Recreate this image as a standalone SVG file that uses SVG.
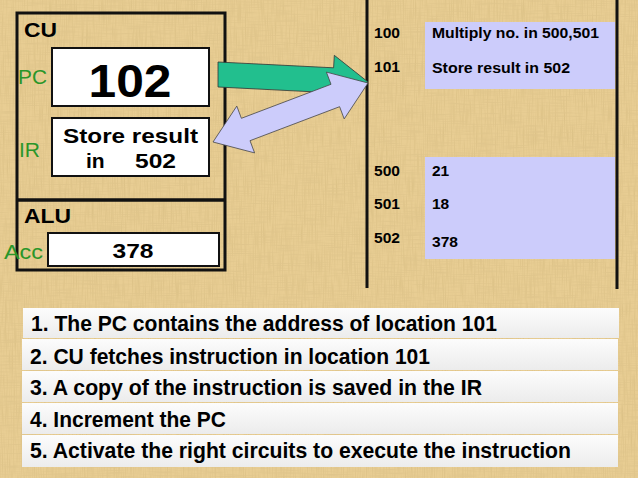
<svg xmlns="http://www.w3.org/2000/svg" width="638" height="478" viewBox="0 0 638 478">
<defs>
<style>
.b{font-family:"Liberation Sans",Arial,sans-serif;font-weight:bold;fill:#000}
.g{font-family:"Liberation Sans",Arial,sans-serif;fill:#2a962a;font-size:21px}
.box{fill:#fff;stroke:#111;stroke-width:2}
.mem{fill:#ccccfb}
.m{font-size:15.5px}
.row{fill:url(#rowg)}
.step{font-size:22px}
</style>
<linearGradient id="rowg" x1="0" y1="0" x2="0" y2="1">
<stop offset="0" stop-color="#fcfcfc"/>
<stop offset="1" stop-color="#ececec"/>
</linearGradient>
<filter id="tex" x="0" y="0" width="100%" height="100%">
<feTurbulence type="fractalNoise" baseFrequency="0.9 0.04" numOctaves="2" seed="3" result="n1"/>
<feColorMatrix in="n1" type="matrix" values="0 0 0 0 0.55  0 0 0 0 0.4  0 0 0 0 0.15  0 0 0 -2.2 1.3" result="a"/>
<feTurbulence type="fractalNoise" baseFrequency="0.04 0.9" numOctaves="2" seed="7" result="n2"/>
<feColorMatrix in="n2" type="matrix" values="0 0 0 0 0.6  0 0 0 0 0.45  0 0 0 0 0.2  0 0 0 -2.2 1.25" result="b"/>
<feMerge><feMergeNode in="a"/><feMergeNode in="b"/></feMerge>
</filter>
</defs>
<rect width="638" height="478" fill="#e8cd93"/>
<rect width="638" height="478" filter="url(#tex)" opacity="0.3"/>

<g id="cu">
<rect x="17" y="13" width="208" height="257" fill="none" stroke="#111" stroke-width="3"/>
<line x1="17" y1="200" x2="225" y2="200" stroke="#111" stroke-width="3.5"/>
<text class="b" x="24" y="37" font-size="21" textLength="33" lengthAdjust="spacingAndGlyphs">CU</text>
</g>
<g id="pc">
<text class="g" x="18" y="84" textLength="29" lengthAdjust="spacingAndGlyphs">PC</text>
<rect class="box" x="52" y="48" width="157" height="58"/>
<text class="b" x="130" y="97" font-size="46" text-anchor="middle" textLength="83" lengthAdjust="spacingAndGlyphs">102</text>
</g>
<g id="ir">
<text class="g" x="19" y="157">IR</text>
<rect class="box" x="52" y="118" width="157" height="58"/>
<text class="b" x="63" y="143" font-size="21" textLength="135" lengthAdjust="spacingAndGlyphs">Store result</text>
<text class="b" x="86" y="168" font-size="21">in</text>
<text class="b" x="135" y="168" font-size="21" textLength="41" lengthAdjust="spacingAndGlyphs">502</text>
</g>
<g id="alu">
<text class="b" x="24" y="223" font-size="21" textLength="47" lengthAdjust="spacingAndGlyphs">ALU</text>
</g>
<g id="acc">
<text class="g" x="4" y="259" textLength="39" lengthAdjust="spacingAndGlyphs">Acc</text>
<rect class="box" x="48" y="233" width="171" height="33"/>
<text class="b" x="133" y="258" font-size="21" text-anchor="middle" textLength="41" lengthAdjust="spacingAndGlyphs">378</text>
</g>

<g id="memory">
<line x1="367" y1="0" x2="367" y2="288" stroke="#111" stroke-width="3"/>
<line x1="617" y1="0" x2="617" y2="289" stroke="#111" stroke-width="3"/>
<rect class="mem" x="425" y="22" width="190" height="67"/>
<rect class="mem" x="425" y="157" width="190" height="102"/>
</g>
<g id="mem-100">
<text class="b m" x="374" y="38" textLength="26" lengthAdjust="spacingAndGlyphs">100</text>
<text class="b m" x="432" y="38" textLength="167" lengthAdjust="spacingAndGlyphs">Multiply no. in 500,501</text>
</g>
<g id="mem-101">
<text class="b m" x="374" y="72" textLength="26" lengthAdjust="spacingAndGlyphs">101</text>
<text class="b m" x="432" y="73" textLength="138" lengthAdjust="spacingAndGlyphs">Store result in 502</text>
</g>
<g id="mem-500">
<text class="b m" x="374" y="176" textLength="26" lengthAdjust="spacingAndGlyphs">500</text>
<text class="b m" x="432" y="176">21</text>
</g>
<g id="mem-501">
<text class="b m" x="374" y="209" textLength="26" lengthAdjust="spacingAndGlyphs">501</text>
<text class="b m" x="432" y="209">18</text>
</g>
<g id="mem-502">
<text class="b m" x="374" y="243" textLength="26" lengthAdjust="spacingAndGlyphs">502</text>
<text class="b m" x="432" y="247" textLength="26" lengthAdjust="spacingAndGlyphs">378</text>
</g>

<g id="connectors">
<polygon points="218,62 333.6,67.8 334.3,55.3 368,82 331.8,105.3 332.4,92.8 218,87" fill="#22bf8e" stroke="#333" stroke-width="0.8"/>
<polygon points="213,142 236.8,106.1 241.4,118.3 331,84.3 326.4,72.1 368,83 344.2,118.9 339.6,106.7 250,140.7 254.6,152.9" fill="#ccccfb" stroke="#444" stroke-width="0.8"/>
</g>

<g id="steps">
<rect class="row" x="23" y="308" width="596" height="30"/>
<rect class="row" x="22" y="339" width="596" height="31"/>
<rect class="row" x="22" y="371" width="596" height="31"/>
<rect class="row" x="22" y="403" width="596" height="31"/>
<rect class="row" x="22" y="435" width="596" height="32"/>
<text class="b step" x="31" y="331" textLength="466" lengthAdjust="spacingAndGlyphs">1. The PC contains the address of location 101</text>
<text class="b step" x="30" y="364" textLength="400" lengthAdjust="spacingAndGlyphs">2. CU fetches instruction in location 101</text>
<text class="b step" x="30" y="395" textLength="452" lengthAdjust="spacingAndGlyphs">3. A copy of the instruction is saved in the IR</text>
<text class="b step" x="30" y="427" textLength="196" lengthAdjust="spacingAndGlyphs">4. Increment the PC</text>
<text class="b step" x="30" y="458" textLength="541" lengthAdjust="spacingAndGlyphs">5. Activate the right circuits to execute the instruction</text>
</g>
</svg>
